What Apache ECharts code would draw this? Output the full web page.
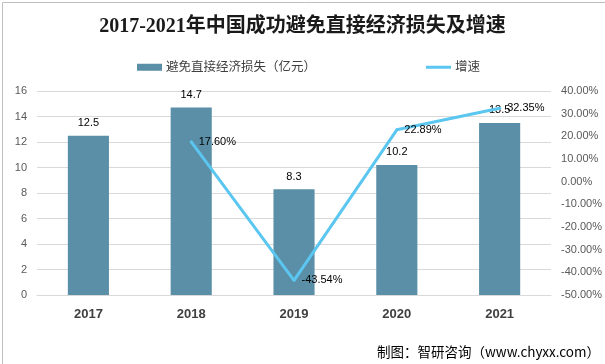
<!DOCTYPE html>
<html>
<head>
<meta charset="utf-8">
<script src="https://cdn.jsdelivr.net/npm/echarts@6/dist/echarts.min.js"></script>
<style>
html,body{margin:0;padding:0;background:#fff;}
#c{width:605px;height:364px;}
</style>
</head>
<body>
<div id="c"></div>
<script>
const years = ['2017','2018','2019','2020','2021'];
const losses = [12.5, 14.7, 8.3, 10.2, 13.5];
const growth = [null, 17.60, -43.54, 22.89, 32.35];
const leftTicks = [0, 16, 2];
const rightTicks = [-50, 40, 10];

const chart = echarts.init(document.getElementById('c'), null, {renderer: 'canvas'});
const sans = "'Liberation Sans','Noto Sans CJK SC',sans-serif";
chart.setOption({
  backgroundColor: '#fff',
  animation: false,
  title: {
    text: '2017-2021年中国成功避免直接经济损失及增速',
    left: 'center',
    top: 12,
    textStyle: {
      fontFamily: "'Liberation Serif','Noto Sans CJK SC',serif",
      fontWeight: 'bold',
      fontSize: 20,
      color: '#1a1a1a'
    }
  },
  legend: {
    left: 132,
    top: 56,
    itemWidth: 25,
    itemHeight: 7,
    itemGap: 110,
    textStyle: {fontFamily: sans, fontSize: 12.5, color: '#404040', padding: [0,0,0,-1]},
    data: [
      {name: '避免直接经济损失（亿元）', icon: 'rect'},
      {name: '增速', icon: 'path://M0,2L25,2L25,5L0,5Z', itemStyle: {color: '#5BC6F0', opacity: 1}}
    ]
  },
  grid: {left: 37, right: 53, top: 91, bottom: 69, containLabel: false},
  xAxis: {
    type: 'category',
    data: years,
    axisLine: {lineStyle: {color: '#d9d9d9'}},
    axisTick: {show: false},
    axisLabel: {fontFamily: sans, fontWeight: 'bold', fontSize: 13, color: '#404040', margin: 13}
  },
  yAxis: [
    {
      type: 'value',
      min: leftTicks[0], max: leftTicks[1], interval: leftTicks[2],
      axisLine: {show: false},
      axisTick: {show: false},
      axisLabel: {fontFamily: sans, fontSize: 11, color: '#595959', margin: 10},
      splitLine: {lineStyle: {color: '#d9d9d9'}}
    },
    {
      type: 'value',
      min: rightTicks[0], max: rightTicks[1], interval: rightTicks[2],
      axisLine: {show: false},
      axisTick: {show: false},
      splitLine: {show: false},
      axisLabel: {
        fontFamily: sans, fontSize: 11, color: '#595959', margin: 10,
        formatter: v => v.toFixed(2) + '%'
      }
    }
  ],
  series: [
    {
      name: '避免直接经济损失（亿元）',
      type: 'bar',
      data: losses,
      barWidth: '40%',
      itemStyle: {color: '#5B8FA7'},
      label: {show: true, position: 'top', distance: 7, fontFamily: sans, fontSize: 11, color: '#000'}
    },
    {
      name: '增速',
      type: 'line',
      yAxisIndex: 1,
      data: growth,
      symbol: 'circle',
      symbolSize: 3,
      showSymbol: true,
      itemStyle: {color: '#5BC6F0'},
      lineStyle: {color: '#5BC6F0', width: 3},
      label: {
        show: true, position: 'right', distance: 6,
        fontFamily: sans, fontSize: 11, color: '#000',
        formatter: p => {
          const v = Array.isArray(p.value) ? p.value[1] : p.value;
          return (typeof v === 'number') ? v.toFixed(2) + '%' : '';
        }
      },
      labelLayout: {hideOverlap: false}
    }
  ],
  graphic: [
    {
      type: 'rect', left: 0, top: 0,
      shape: {width: 604, height: 363},
      style: {fill: 'none', stroke: '#bfbfbf', lineWidth: 1}
    },
    {
      type: 'text', right: 5, top: 345,
      style: {text: '制图：智研咨询（www.chyxx.com）', font: "13.5px 'Noto Sans CJK SC',sans-serif", fill: '#000'}
    }
  ]
});
</script>
</body>
</html>
